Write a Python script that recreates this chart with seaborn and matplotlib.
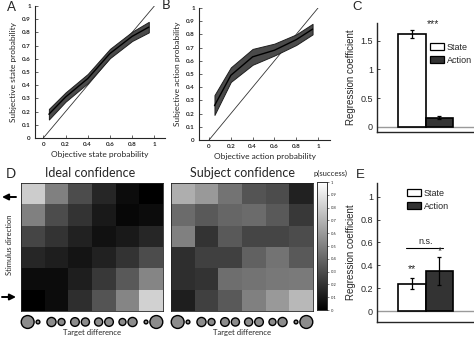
import numpy as np
import pandas as pd
import matplotlib
matplotlib.use("Agg")
import matplotlib.pyplot as plt
import seaborn as sns
from matplotlib.patches import Patch, FancyArrowPatch

sns.set_theme(style="ticks")
plt.rcParams['font.family'] = ['Lato', 'DejaVu Sans']
plt.rcParams['axes.linewidth'] = 0.8

W, H = 474, 337

# ---- Panels A/B: calibration curves ----
objective_prob = [0.05, 0.2, 0.4, 0.6, 0.8, 0.95]
state_mean = [0.18, 0.31, 0.45, 0.64, 0.77, 0.84]
state_low = [0.14, 0.275, 0.415, 0.605, 0.735, 0.80]
state_high = [0.22, 0.345, 0.485, 0.675, 0.805, 0.88]
action_mean = [0.26, 0.49, 0.63, 0.68, 0.76, 0.84]
action_low = [0.19, 0.44, 0.57, 0.64, 0.72, 0.80]
action_high = [0.34, 0.55, 0.69, 0.73, 0.80, 0.88]

# ---- Panels C/E: regression coefficients ----
coef_labels = ["State", "Action"]
c_mean = [1.62, 0.16]
c_err = [0.07, 0.02]
e_mean = [0.24, 0.35]
e_err = [0.05, 0.12]

# ---- Panel D: confidence maps (rows = stimulus direction, cols = target difference) ----
ideal_conf = [
    [0.80, 0.50, 0.30, 0.15, 0.05, 0.00],
    [0.50, 0.30, 0.20, 0.10, 0.03, 0.05],
    [0.27, 0.20, 0.13, 0.07, 0.10, 0.15],
    [0.15, 0.12, 0.08, 0.13, 0.20, 0.30],
    [0.05, 0.05, 0.12, 0.22, 0.35, 0.52],
    [0.00, 0.05, 0.18, 0.33, 0.52, 0.82],
]
subject_conf = [
    [0.68, 0.60, 0.45, 0.33, 0.30, 0.13],
    [0.42, 0.35, 0.40, 0.42, 0.35, 0.22],
    [0.50, 0.20, 0.35, 0.27, 0.27, 0.30],
    [0.18, 0.25, 0.25, 0.38, 0.45, 0.35],
    [0.18, 0.20, 0.43, 0.45, 0.47, 0.48],
    [0.12, 0.25, 0.35, 0.50, 0.60, 0.72],
]
left_target_value = [0.92, 0.65, 0.62, 0.58, 0.50, 0.27]
right_target_value = [0.27, 0.50, 0.58, 0.62, 0.65, 0.92]
cbar_ticks = [0, 0.1, 0.2, 0.3, 0.4, 0.5, 0.6, 0.7, 0.8, 0.9, 1]


def px_axes(fig, x0, y0, x1, y1):
    return fig.add_axes([x0 / W, 1 - y1 / H, (x1 - x0) / W, (y1 - y0) / H])


fig = plt.figure(figsize=(W / 100, H / 100), dpi=100)


def calib_panel(ax, mean, low, high, xlim, ylabel, xlabel):
    df = pd.DataFrame({"x": objective_prob, "y": mean})
    ax.fill_between(objective_prob, low, high, color="#4a4a4a",
                    edgecolor="#1f1f1f", linewidth=0.7, zorder=2)
    sns.lineplot(data=df, x="x", y="y", color="black", linewidth=1.0, ax=ax, zorder=3)
    ax.plot([0, 1], [0, 1], color="#333333", linewidth=0.6, zorder=1)
    ax.set_xlim(*xlim)
    ax.set_ylim(0, 1)
    ax.set_xticks([0, 0.2, 0.4, 0.6, 0.8, 1])
    ax.set_xticklabels(["0", "0.2", "0.4", "0.6", "0.8", "1"])
    ax.set_yticks(np.round(np.arange(0, 1.01, 0.1), 1))
    ax.set_yticklabels(["0", "0.1", "0.2", "0.3", "0.4", "0.5", "0.6", "0.7", "0.8", "0.9", "1"])
    ax.tick_params(direction="in", length=2, width=0.5, labelsize=4.5, pad=3)
    for lab in ax.get_xticklabels() + ax.get_yticklabels():
        lab.set_fontweight("bold")
    ax.set_xlabel(xlabel, fontsize=6, labelpad=3)
    ax.set_ylabel(ylabel, fontsize=6, labelpad=4)
    sns.despine(ax=ax)


axA = px_axes(fig, 35, 6, 165, 138)
calib_panel(axA, state_mean, state_low, state_high, (-0.075, 1.096),
            "Subjective state probability", "Objective state probability")
axB = px_axes(fig, 199, 8, 330, 140)
calib_panel(axB, action_mean, action_low, action_high, (-0.092, 1.11),
            "Subjective action probability", "Objective action probability")


def coef_panel(ax, mean, err, ylim, yticks, yticklabels):
    sns.barplot(x=coef_labels, y=mean, hue=coef_labels, palette=["white", "#333333"],
                width=1.0, edgecolor="black", linewidth=1.2, legend=False, ax=ax, zorder=3)
    ax.errorbar([0, 1], mean, yerr=err, fmt="none", ecolor="black",
                elinewidth=0.9, capsize=1.5, capthick=0.9, zorder=4)
    ax.axhline(0, color="#9a9a9a", linewidth=1.0, zorder=2)
    ax.set_xlim(-1.27, 2.84)
    ax.set_ylim(*ylim)
    ax.set_xticks([])
    ax.set_yticks(yticks)
    ax.set_yticklabels(yticklabels, fontfamily="Liberation Sans")
    ax.tick_params(axis="y", direction="in", length=2, width=0.6, labelsize=6.5, pad=3)
    ax.set_ylabel("Regression coefficient", fontsize=7, fontfamily="Liberation Sans", labelpad=3)
    ax.spines["left"].set_linewidth(1.0)
    ax.spines["bottom"].set_linewidth(1.0)
    sns.despine(ax=ax)
    handles = [Patch(facecolor="white", edgecolor="black", linewidth=0.9),
               Patch(facecolor="#333333", edgecolor="black", linewidth=0.9)]
    return handles


legend_kw = dict(frameon=False, prop={"family": "Liberation Sans", "size": 6.5},
                 handlelength=1.5, handleheight=0.8, handletextpad=0.35,
                 labelspacing=0.45, borderpad=0, borderaxespad=0)

axC = px_axes(fig, 377, 23, 490, 132)
hC = coef_panel(axC, c_mean, c_err, (-0.092, 1.81), [0, 0.5, 1, 1.5], ["0", "0.5", "1", "1.5"])
axC.text(0.75, c_mean[0] + c_err[0] + 0.02, "***", ha="center", va="bottom", fontsize=7.5,
         fontfamily="Liberation Sans")
axC.legend(hC, coef_labels, loc="upper left", bbox_to_anchor=(430 / W, 1 - 43 / H),
           bbox_transform=fig.transFigure, **legend_kw)

axE = px_axes(fig, 377, 183, 490, 322)
hE = coef_panel(axE, e_mean, e_err, (-0.096, 1.12), [0, 0.2, 0.4, 0.6, 0.8, 1],
                ["0", "0.2", "0.4", "0.6", "0.8", "1"])
axE.text(0, e_mean[0] + e_err[0] + 0.03, "**", ha="center", va="bottom", fontsize=7.5,
         fontfamily="Liberation Sans")
axE.text(1, e_mean[1] + e_err[1] + 0.01, "*", ha="center", va="bottom", fontsize=7.5,
         fontfamily="Liberation Sans")
axE.plot([-0.22, 1.13], [0.55, 0.55], color="black", linewidth=0.8)
axE.text(0.5, 0.57, "n.s.", ha="center", va="bottom", fontsize=6.5,
         fontfamily="Liberation Sans")
axE.legend(hE, coef_labels, loc="upper left", bbox_to_anchor=(407 / W, 1 - 189 / H),
           bbox_transform=fig.transFigure, **legend_kw)

# ---- Panel D heatmaps ----
cax = px_axes(fig, 317, 182, 327, 310)
axD1 = px_axes(fig, 21, 183, 163, 311)
axD2 = px_axes(fig, 171, 183, 313, 311)
sns.heatmap(np.array(ideal_conf), cmap="gray", vmin=0, vmax=1, cbar=False,
            xticklabels=False, yticklabels=False, ax=axD1)
sns.heatmap(np.array(subject_conf), cmap="gray", vmin=0, vmax=1, cbar=True, cbar_ax=cax,
            xticklabels=False, yticklabels=False, ax=axD2)
for ax in (axD1, axD2):
    for sp in ax.spines.values():
        sp.set_visible(True)
        sp.set_linewidth(0.6)
        sp.set_color("#222222")
cax.set_yticks(cbar_ticks)
cax.set_yticklabels([f"{t:g}" for t in cbar_ticks])
cax.tick_params(labelsize=3, length=1.5, width=0.4, pad=1)
for sp in cax.spines.values():
    sp.set_visible(True)
    sp.set_linewidth(0.5)

fig.text(90 / W, 1 - 173 / H, "Ideal confidence", ha="center", va="center", fontsize=9)
fig.text(243 / W, 1 - 173 / H, "Subject confidence", ha="center", va="center", fontsize=9)
fig.text(331 / W, 1 - 173 / H, "p(success)", ha="center", va="center", fontsize=5.5)
fig.text(10 / W, 1 - 245 / H, "Stimulus direction", ha="center", va="center",
         rotation=90, fontsize=5.5)

# direction arrows beside first and last rows
for y_row, x_from, x_to in ((197, 16, 2), (297, 2, 16)):
    fig.add_artist(FancyArrowPatch(
        (x_from / W, 1 - y_row / H), (x_to / W, 1 - y_row / H),
        transform=fig.transFigure, arrowstyle="-|>", mutation_scale=9,
        linewidth=1.4, color="black", shrinkA=0, shrinkB=0))

# target-value circles under each column
px_per_col = 142 / 6
for x0, x1 in ((21, 163), (171, 313)):
    axc = px_axes(fig, x0, 312, x1, 332)
    axc.set_xlim(0, 6)
    axc.set_ylim(0, 1)
    axc.axis("off")
    dl = np.array(left_target_value) * 14.0
    dr = np.array(right_target_value) * 14.0
    off = ((dl + dr) / 2 + 2.0) / px_per_col / 2
    cols = np.arange(6) + 0.5
    xs = np.concatenate([cols - off, cols + off])
    ds = np.concatenate([dl, dr])
    axc.scatter(xs, np.full(12, 0.5), s=(ds * 0.72) ** 2, facecolor="#8c8c8c",
                edgecolor="black", linewidth=1.0, clip_on=False)
    fig.text((x0 + x1) / 2 / W, 1 - 333 / H, "Target difference", ha="center",
             va="center", fontsize=5.5)

# panel letters
for letter, x, y, fam in (("A", 11, 7, "Lato"), ("B", 166, 5, "Lato"),
                          ("C", 357, 7, "Liberation Sans"), ("D", 11, 174, "Lato"),
                          ("E", 360, 175, "Liberation Sans")):
    fig.text(x / W, 1 - y / H, letter, ha="center", va="center", fontsize=9.5, family=fam)

fig.savefig("out.png", dpi=100)
